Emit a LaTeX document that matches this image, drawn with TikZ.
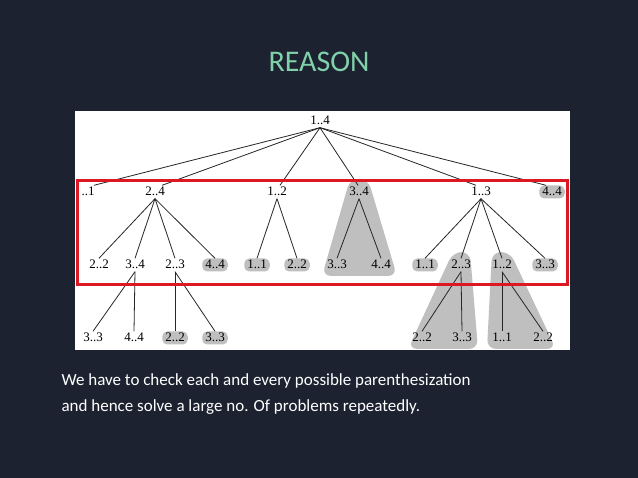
\documentclass[tikz,border=0pt]{standalone}
\usepackage{fontspec}
\setmainfont{Liberation Serif}
\newfontfamily\carl{Carlito}
\begin{document}
\begin{tikzpicture}[x=1pt,y=-1pt,
  lab/.style={font=\fontsize{13}{13}\selectfont, inner sep=1.5pt, text height=9pt, text depth=1pt},
  gb/.style={lab, fill=gray!50, rounded corners=5pt, inner xsep=3pt},
  edge/.style={draw=black!85, line width=0.8pt},
  blob/.style={fill=gray!50, rounded corners=9pt}]
\fill[fill={rgb,255:red,28;green,34;blue,48}] (0,0) rectangle (638,478);
\useasboundingbox (0,0) rectangle (638,478);
\node[text={rgb,255:red,128;green,208;blue,170}, font=\carl\fontsize{30}{30}\selectfont] (title) at (319,62) {REASON};
\fill[white] (75,111) rectangle (570,350);
% blobs
\fill[blob] (350,179) -- (368,179) -- (397,276) -- (322,276) -- cycle;
\fill[blob] (453,252) -- (470,252) -- (478,349) -- (408,349) -- cycle;
\fill[blob] (492,252) -- (510,252) -- (556,349) -- (487,349) -- cycle;
% nodes
\node[lab] (r) at (320,121) {1..4};
\node[lab] (a1) at (88,192) {..1};
\node[lab] (a2) at (155,192) {2..4};
\node[lab] (a3) at (277,192) {1..2};
\node[lab] (a4) at (359,192) {3..4};
\node[lab] (a5) at (481,192) {1..3};
\node[gb] (a6) at (552,192) {4..4};
\node[lab] (b1) at (99,265) {2..2};
\node[lab] (b2) at (135,265) {3..4};
\node[lab] (b3) at (175,265) {2..3};
\node[gb] (b4) at (215,265) {4..4};
\node[gb] (b5) at (257,265) {1..1};
\node[gb] (b6) at (297,265) {2..2};
\node[lab] (b7) at (337,265) {3..3};
\node[lab] (b8) at (381,265) {4..4};
\node[gb] (b9) at (425,265) {1..1};
\node[lab] (b10) at (461,265) {2..3};
\node[lab] (b11) at (502,265) {1..2};
\node[gb] (b12) at (545,265) {3..3};
\node[lab] (c1) at (93,338) {3..3};
\node[lab] (c2) at (134,338) {4..4};
\node[gb] (c3) at (175,338) {2..2};
\node[gb] (c4) at (215,338) {3..3};
\node[lab] (c5) at (422,338) {2..2};
\node[lab] (c6) at (462,338) {3..3};
\node[lab] (c7) at (502,338) {1..1};
\node[lab] (c8) at (543,338) {2..2};
% edges
\foreach \c/\xo in {a1/6,a2/7,a3/3,a4/-1,a5/-5,a6/-6} \draw[edge] (r.south) -- ([xshift=\xo pt]\c.north);
\foreach \p/\c in {a2/b1,a2/b2,a2/b3,a2/b4,a3/b5,a3/b6,a4/b7,a4/b8,a5/b9,a5/b10,a5/b11,a5/b12,b2/c1,b2/c2,b3/c3,b3/c4,b10/c5,b10/c6,b11/c7,b11/c8}
  \draw[edge] (\p.south) -- (\c.north);
\draw[draw={rgb,255:red,220;green,25;blue,35}, line width=3pt] (77,181) rectangle (567,285);
\node[text=white, font=\carl\fontsize{17}{26}\selectfont, align=left, anchor=north west] (txt) at (58,370) {We have to check each and every possible parenthesization\\and hence solve a large no. Of problems repeatedly.};
\end{tikzpicture}
\end{document}
